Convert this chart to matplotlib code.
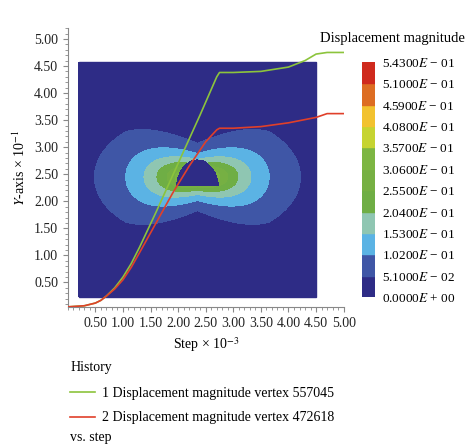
import numpy as np
import matplotlib
matplotlib.use("Agg")
import matplotlib.pyplot as plt
from matplotlib.lines import Line2D

plt.rcParams['font.family'] = ['Liberation Serif', 'DejaVu Serif']
plt.rcParams['mathtext.fontset'] = 'stix'

# Lines (step x1e-3, y x1e-1)
green_x = [0, 0.3, 0.5, 0.6, 0.7, 0.85, 1.0, 1.15, 1.3, 1.6, 2.0, 2.4, 2.7, 2.75, 3.0, 3.5, 4.0, 4.3, 4.5, 4.7, 5.0]
green_y = [0.05, 0.07, 0.12, 0.17, 0.25, 0.4, 0.6, 0.85, 1.15, 1.8, 2.7, 3.6, 4.3, 4.38, 4.38, 4.4, 4.48, 4.6, 4.72, 4.75, 4.75]
red_x = [0, 0.3, 0.5, 0.6, 0.7, 0.85, 1.0, 1.15, 1.3, 1.6, 1.9, 2.2, 2.5, 2.7, 2.75, 3.0, 3.5, 4.0, 4.5, 4.7, 5.0]
red_y = [0.05, 0.07, 0.12, 0.17, 0.25, 0.38, 0.55, 0.78, 1.05, 1.6, 2.15, 2.65, 3.1, 3.32, 3.35, 3.35, 3.38, 3.45, 3.55, 3.62, 3.62]

levels = [0.0, 0.051, 0.102, 0.153, 0.204, 0.255, 0.306, 0.357, 0.408, 0.459, 0.510, 0.543]
level_labels = ['0.0000$E$ + 00', '5.1000$E$ − 02', '1.0200$E$ − 01', '1.5300$E$ − 01',
                '2.0400$E$ − 01', '2.5500$E$ − 01', '3.0600$E$ − 01', '3.5700$E$ − 01',
                '4.0800$E$ − 01', '4.5900$E$ − 01', '5.1000$E$ − 01', '5.4300$E$ − 01']
band_colors = ['#2e2c86', '#3f56a6', '#5bb3e4', '#8fc6b2', '#6fae45', '#76b043', '#7db643',
               '#c6d431', '#f2c22f', '#dd6d22', '#cf2a1d']

xt = [0.5, 1.0, 1.5, 2.0, 2.5, 3.0, 3.5, 4.0, 4.5, 5.0]
yt = [0.5, 1.0, 1.5, 2.0, 2.5, 3.0, 3.5, 4.0, 4.5, 5.0]

fig = plt.figure(figsize=(4.74, 4.46), dpi=100)
ax = fig.add_axes([0.143, 0.312, 0.582, 0.625])
ax.set_xlim(0, 5.0)
ax.set_ylim(0.05, 5.2)

# contour field (synthetic background)
cx, cy = 2.35, 2.45
x0, x1, y0, y1 = 0.2, 4.5, 0.24, 4.57
gx, gy = np.meshgrid(np.linspace(x0, x1, 400), np.linspace(y0, y1, 400))
dx, dy = gx - cx, gy - cy
hw = 0.6 + 0.4 * np.minimum(np.abs(dx), 1.3)
rho = np.sqrt((dx / 1.8) ** 2 + (dy / hw) ** 2)
f = 0.5 * np.exp(-2.2 * rho)
hole = ((dx / 0.39) ** 2 + ((gy - 2.27) / 0.51) ** 2 < 1) & (gy > 2.27)
f = np.ma.masked_where(hole, f)
ax.add_patch(plt.Rectangle((x0, y0), x1 - x0, y1 - y0, color=band_colors[0], zorder=0))
ax.contourf(gx, gy, f, levels=levels, colors=band_colors, zorder=1)

ax.plot(green_x, green_y, color='#8cc43c', lw=1.2, zorder=3)
ax.plot(red_x, red_y, color='#e0402a', lw=1.2, zorder=3)

for s in ['top', 'right']:
    ax.spines[s].set_visible(False)
for s in ['left', 'bottom']:
    ax.spines[s].set_color('#888888')
ax.set_xticks(xt)
ax.set_xticklabels([f'{v:.2f}' for v in xt])
ax.set_yticks(yt)
ax.set_yticklabels([f'{v:.2f}' for v in yt])
ax.minorticks_on()
ax.tick_params(which='both', direction='out', colors='#888888', labelcolor='#222222', labelsize=10)
ax.tick_params(which='minor', length=2)
ax.set_xlabel('Step × 10$^{-3}$', fontsize=10)
ax.set_ylabel('$Y$-axis × 10$^{-1}$', fontsize=10)

fig.text(0.675, 0.905, 'Displacement magnitude', fontsize=10.5)

# colorbar
cax = fig.add_axes([0.764, 0.334, 0.028, 0.527])
for i, c in enumerate(band_colors):
    cax.axhspan(i, i + 1, color=c)
cax.set_ylim(0, len(band_colors))
cax.set_xticks([])
cax.set_yticks(range(len(levels)))
cax.set_yticklabels(level_labels, fontsize=9.5)
cax.yaxis.tick_right()
cax.tick_params(length=0, pad=5)
for s in cax.spines.values():
    s.set_visible(False)

# legend
fig.text(0.148, 0.168, 'History', fontsize=10)
fig.add_artist(Line2D([0.148, 0.2], [0.12, 0.12], color='#8cc43c', lw=1.2))
fig.text(0.215, 0.11, '1 Displacement magnitude vertex 557045', fontsize=10)
fig.add_artist(Line2D([0.148, 0.2], [0.066, 0.066], color='#e0402a', lw=1.2))
fig.text(0.215, 0.056, '2 Displacement magnitude vertex 472618', fontsize=10)
fig.text(0.148, 0.012, 'vs. step', fontsize=10)

fig.savefig('out.png', dpi=100)
